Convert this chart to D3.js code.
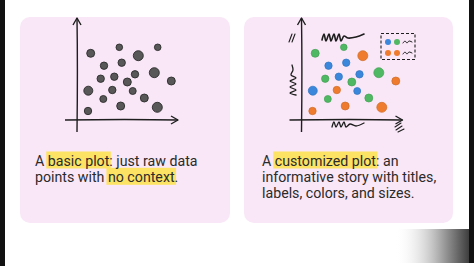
<!DOCTYPE html>
<html lang="en">
<head>
<meta charset="UTF-8">
<title>Basic vs customized plot</title>
<script src="https://cdn.jsdelivr.net/npm/d3@7"></script>
<style>
html, body { margin: 0; padding: 0; background: #fff; }
svg { display: block; }
.caption { font-family: 'Roboto', sans-serif; font-size: 14.2px; fill: #2b2b2b; white-space: pre; }
</style>
</head>
<body>
<svg id="chart" width="474" height="266"></svg>
<script>
// point positions (same scatter in both panels), in axis units 0..100
var xs = [13.7, 42.3, 80.7, 61.3, 27, 44.7, 77.3, 23.7, 37.3, 58, 50.3, 94.3, 11.3, 35.3, 55.7, 26.3, 67.3, 43.7, 80.3, 11];
var ys = [66.7, 72.7, 72.7, 64.3, 54.3, 57.3, 47.3, 41.3, 43.3, 45.7, 38, 39, 29.3, 30, 29, 21, 22, 14, 12.7, 9];
var sizes = [4, 3.3, 3.3, 5, 3.7, 3.7, 5, 3.7, 3.7, 3.7, 4, 4, 4.5, 3.7, 3.5, 3.5, 4, 4, 5, 3.7];
// group of each point in the customized plot ("" = hidden behind the legend)
var groups = ["green", "green", "", "orange", "blue", "blue", "green", "green", "blue", "blue",
              "green", "orange", "blue", "orange", "blue", "green", "green", "orange", "orange", "orange"];
var groupNames = ["blue", "green", "orange"];
var groupColors = ["#3a87dc", "#4fb862", "#ef7c2e"];
var legendRows = [["blue", "green"], ["orange", "orange"]];

var captions = [
  [[{t: "A "}, {t: "basic plot", hl: true}, {t: ": just raw data"}],
   [{t: "points with "}, {t: "no context", hl: true}, {t: "."}]],
  [[{t: "A "}, {t: "customized plot", hl: true}, {t: ": an"}],
   [{t: "informative story with titles,"}],
   [{t: "labels, colors, and sizes."}]]
];

var svg = d3.select("#chart");
var W = 474, H = 266;

// side bars and the fading corner of the video frame
var defs = svg.append("defs");
var grad = defs.append("linearGradient").attr("id", "fade").attr("x1", 0).attr("x2", 1);
grad.append("stop").attr("offset", 0).attr("stop-color", "#fff").attr("stop-opacity", 0);
grad.append("stop").attr("offset", 0.6).attr("stop-color", "#aaa");
grad.append("stop").attr("offset", 1).attr("stop-color", "#3a3a3a");
svg.append("rect").attr("x", 395).attr("y", 229).attr("width", 75).attr("height", 34).attr("fill", "url(#fade)");
svg.append("rect").attr("x", 0).attr("y", 0).attr("width", 5).attr("height", H).attr("fill", "#111");
svg.append("rect").attr("x", 469).attr("y", 0).attr("width", 5).attr("height", 263).attr("fill", "#111");

var cards = [{x: 20, w: 210}, {x: 244, w: 209}];
cards.forEach(function (c) {
  svg.append("rect").attr("x", c.x).attr("y", 17).attr("width", c.w).attr("height", 206)
    .attr("rx", 10).attr("fill", "#f9e7f7");
});

var color = d3.scaleOrdinal().domain(groupNames).range(groupColors);
var points = xs.map(function (x, i) { return {x: x, y: ys[i], s: sizes[i], g: groups[i]}; });

function drawAxes(g, x, y) {
  var ink = "#1e1e1e";
  var x0 = x.range()[0], y0 = y.range()[0];
  var yTop = y.range()[1] - 2, xEnd = x.range()[1] + 1;
  g.append("path")
    .attr("d", "M" + x0 + "," + (y0 + 12) + " Q" + (x0 + 0.8) + "," + ((y0 + yTop) / 2) + " " + x0 + "," + yTop)
    .attr("fill", "none").attr("stroke", ink).attr("stroke-width", 1.4);
  g.append("path")
    .attr("d", "M" + (x0 - 12) + "," + y0 + " Q" + ((x0 + xEnd) / 2) + "," + (y0 - 1) + " " + xEnd + "," + y0)
    .attr("fill", "none").attr("stroke", ink).attr("stroke-width", 1.4);
  g.append("path")
    .attr("d", "M" + (x0 - 4) + "," + (yTop + 7) + " L" + x0 + "," + yTop + " L" + (x0 + 4) + "," + (yTop + 7))
    .attr("fill", "none").attr("stroke", ink).attr("stroke-width", 1.4).attr("stroke-linejoin", "round");
  g.append("path")
    .attr("d", "M" + (xEnd - 7) + "," + (y0 - 4) + " L" + xEnd + "," + y0 + " L" + (xEnd - 7) + "," + (y0 + 4))
    .attr("fill", "none").attr("stroke", ink).attr("stroke-width", 1.4).attr("stroke-linejoin", "round");
}

// panel 1: basic plot
var x1 = d3.scaleLinear().domain([0, 100]).range([77, 177]);
var y1 = d3.scaleLinear().domain([0, 100]).range([120, 20]);
var g1 = svg.append("g");
drawAxes(g1, x1, y1);
g1.selectAll("circle").data(points).join("circle")
  .attr("cx", function (d) { return x1(d.x); })
  .attr("cy", function (d) { return y1(d.y); })
  .attr("r", function (d) { return d.s; })
  .attr("fill", "#585858").attr("stroke", "#2c2c2c").attr("stroke-width", 0.9);

// panel 2: customized plot
var x2 = d3.scaleLinear().domain([0, 100]).range([301.5, 401.5]);
var y2 = d3.scaleLinear().domain([0, 100]).range([120, 20]);
var g2 = svg.append("g");
drawAxes(g2, x2, y2);
g2.selectAll("circle").data(points.filter(function (d) { return d.g; })).join("circle")
  .attr("cx", function (d) { return x2(d.x); })
  .attr("cy", function (d) { return y2(d.y); })
  .attr("r", function (d) { return d.s; })
  .attr("fill", function (d) { return color(d.g); })
  .attr("stroke", function (d) { return d3.color(color(d.g)).darker(0.4); })
  .attr("stroke-width", 0.7);

// scribbles standing in for title / axis labels
var scribble = d3.line().curve(d3.curveCatmullRom);
function squiggle(pts, w) {
  g2.append("path").attr("d", scribble(pts)).attr("fill", "none")
    .attr("stroke", "#1e1e1e").attr("stroke-width", w || 1.3).attr("stroke-linecap", "round");
}
// title
squiggle([[322, 40], [324, 34], [326, 41], [329, 34], [331, 41], [334, 34], [336, 41], [339, 34], [341, 41], [344, 36], [348, 38], [356, 37], [364, 34]], 1.6);
// y label
squiggle([[296, 95], [290, 93], [296, 90], [290, 87], [296, 84], [290, 81], [296, 78], [291, 75], [293, 70], [292, 65]]);
// x label
squiggle([[332, 127], [334, 122], [336, 127], [339, 122], [341, 127], [344, 122], [346, 127], [350, 124], [356, 126], [364, 123]]);
// tick marks near the axis ends
squiggle([[289, 42], [292, 34]], 1.1);
squiggle([[292, 42], [295, 34]], 1.1);
squiggle([[395, 127], [401, 123]], 1.1);
squiggle([[396, 130], [402, 126]], 1.1);
squiggle([[398, 132], [404, 129]], 1.1);

// legend
var lg = g2.append("g");
lg.append("rect").attr("x", 381).attr("y", 33.5).attr("width", 34).attr("height", 26)
  .attr("fill", "none").attr("stroke", "#1e1e1e").attr("stroke-width", 1.1).attr("stroke-dasharray", "3,2");
legendRows.forEach(function (row, r) {
  var cy = 42 + r * 11;
  row.forEach(function (name, k) {
    lg.append("circle").attr("cx", 388 + k * 9).attr("cy", cy).attr("r", 3)
      .attr("fill", color(name));
  });
  squiggle([[403, cy + 1], [405, cy - 1], [407, cy + 1], [409, cy - 1], [412, cy]], 1);
});

// captions with highlighter marks
var capX = [35, 262];
captions.forEach(function (lines, ci) {
  var cg = svg.append("g");
  var hl = cg.append("g"), tx = cg.append("g");
  lines.forEach(function (segs, li) {
    var base = 165.5 + li * 16.3;
    var cx = capX[ci];
    segs.forEach(function (s) {
      var t = tx.append("text").attr("class", "caption").attr("x", cx).attr("y", base).text(s.t);
      var w = t.node().getComputedTextLength();
      if (s.hl) {
        hl.append("rect").attr("x", cx - 1.5).attr("y", base - 14).attr("width", w + 3).attr("height", 17)
          .attr("fill", "#fde364");
      }
      cx += w;
    });
  });
});
</script>
</body>
</html>
